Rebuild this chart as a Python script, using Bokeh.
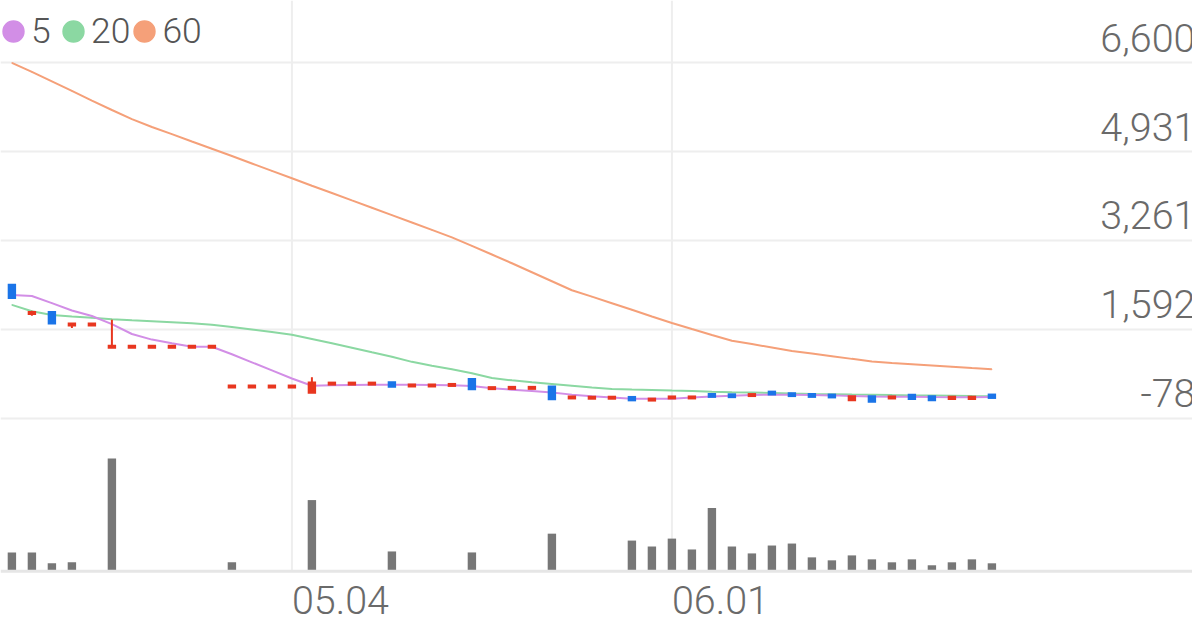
from bokeh.plotting import figure
from bokeh.models import Range1d, FixedTicker, Span, Legend, LegendItem, ColumnDataSource
from bokeh.core.properties import value
from bokeh.embed import file_html
from bokeh.resources import INLINE

# ---------------- data ----------------
dates = ["04.09", "04.10", "04.13", "04.14", "04.16", "04.17", "04.20", "04.21", "04.22", "04.23",
         "04.24", "04.27", "04.28", "04.29", "05.04", "05.06", "05.07", "05.08", "05.11", "05.12",
         "05.13", "05.14", "05.15", "05.18", "05.19", "05.20", "05.21", "05.22", "05.25", "05.26",
         "05.27", "05.28", "05.29", "06.01", "06.02", "06.03", "06.04", "06.05", "06.08", "06.09",
         "06.10", "06.11", "06.12", "06.15", "06.16", "06.17", "06.18", "06.19", "06.22", "06.23"]

opens = [2420, 1895, 1905, 1680, 1680, 1265, 1265, 1265, 1265, 1265,
         1265, 515, 515, 515, 515, 410, 570, 570, 570, 585,
         535, 535, 545, 645, 485, 490, 490, 505, 310, 305,
         305, 310, 270, 310, 310, 365, 360, 355, 410, 380,
         365, 355, 265, 325, 300, 350, 325, 290, 290, 355]
highs = [2420, 1940, 1905, 1680, 1680, 1770, 1265, 1265, 1265, 1265,
         1265, 515, 515, 515, 515, 690, 570, 570, 570, 585,
         535, 535, 545, 645, 485, 490, 490, 505, 310, 305,
         305, 310, 270, 310, 310, 365, 360, 355, 410, 380,
         365, 355, 325, 325, 320, 350, 325, 315, 315, 355]
lows = [2190, 1845, 1710, 1615, 1680, 1265, 1265, 1265, 1265, 1265,
        1265, 515, 515, 515, 515, 410, 570, 570, 570, 520,
        535, 535, 545, 475, 485, 490, 490, 285, 310, 305,
        305, 265, 270, 310, 310, 330, 325, 355, 375, 345,
        330, 320, 265, 240, 300, 290, 265, 290, 290, 310]
closes = [2190, 1895, 1710, 1680, 1680, 1265, 1265, 1265, 1265, 1265,
          1265, 515, 515, 515, 515, 580, 570, 570, 570, 520,
          535, 535, 545, 475, 485, 490, 490, 285, 310, 305,
          305, 265, 270, 310, 310, 330, 325, 355, 375, 345,
          330, 320, 325, 240, 320, 290, 265, 315, 315, 310]

volumes = [19000, 19000, 8000, 9000, 0, 114000, 0, 0, 0, 0,
           0, 9000, 0, 0, 0, 72000, 0, 0, 0, 20000,
           0, 0, 0, 19000, 0, 0, 0, 38000, 0, 0,
           0, 31000, 25000, 33000, 22000, 64000, 25000, 18000, 26000, 28000,
           14000, 11000, 16000, 12000, 9000, 12000, 6000, 9000, 12000, 8000]

ma5 = [2235, 2217, 2083, 1944, 1840, 1688, 1502, 1397, 1328, 1263,
       1263, 1122, 970, 818, 666, 529, 538, 543, 547, 547,
       547, 543, 538, 525, 482, 456, 430, 404, 363, 334,
       308, 287, 287, 287, 311, 330, 343, 356, 362, 362,
       356, 349, 339, 330, 324, 321, 317, 315, 315, 319]
ma20 = [2050, 1931, 1860, 1833, 1808, 1781, 1760, 1744, 1725, 1703,
        1677, 1632, 1586, 1540, 1489, 1410, 1330, 1245, 1159, 1076,
        979, 905, 840, 766, 677, 631, 594, 562, 529, 497,
        471, 460, 451, 441, 432, 419, 410, 402, 393, 382,
        376, 371, 365, 360, 354, 349, 345, 341, 337, 334]
ma60 = [6598, 6427, 6248, 6069, 5889, 5711, 5539, 5391, 5257, 5120,
        4984, 4846, 4706, 4567, 4428, 4289, 4151, 4012, 3875, 3736,
        3597, 3458, 3318, 3159, 2996, 2831, 2662, 2493, 2324, 2204,
        2081, 1957, 1832, 1709, 1596, 1485, 1377, 1313, 1248, 1183,
        1135, 1085, 1035, 987, 959, 935, 911, 888, 864, 842]

y_ticks = [-78, 1591.5, 3261, 4930.5, 6600]
y_tick_labels = ["-78", "1,592", "3,261", "4,931", "6,600"]
x_tick_dates = ["05.04", "06.01"]
legend_labels = ["5", "20", "60"]

# ---------------- layout / style ----------------
W, H = 1192, 622
SLOT_PX = 20.0
FIRST_SLOT_PX = 11.4
PRICE_TOP_PX, PRICE_BOT_PX = 62.2, 417.6
VOL_BASE_PX = 570.7
VOL_MAX_PX = 112.6

C5, C20, C60 = "#d28ee6", "#8bd8a2", "#f5a079"
UP, DOWN = "#e8361f", "#1a74e8"
VOL_COLOR = "#777777"
GRID = "#eeeeee"
TXT = "#6a6a6a"
FONT = "Roboto Light, Roboto"

idx = list(range(len(dates)))

x0 = -FIRST_SLOT_PX / SLOT_PX
x_range = Range1d(x0, x0 + W / SLOT_PX)
ppx = (y_ticks[-1] - y_ticks[0]) / (PRICE_BOT_PX - PRICE_TOP_PX)
y_range = Range1d(y_ticks[0] - (H - PRICE_BOT_PX) * ppx, y_ticks[-1] + PRICE_TOP_PX * ppx)
vpx = max(volumes) / VOL_MAX_PX
vol_range = Range1d(-(H - VOL_BASE_PX) * vpx, VOL_BASE_PX * vpx)

p = figure(width=W, height=H, x_range=x_range, y_range=y_range,
           x_axis_location=None, y_axis_location=None,
           toolbar_location=None, output_backend="svg", min_border=0)
p.extra_y_ranges = {"vol": vol_range}
p.outline_line_color = None
p.background_fill_color = "white"
p.border_fill_color = "white"

p.xgrid.visible = False
p.ygrid.ticker = FixedTicker(ticks=y_ticks)
p.ygrid.grid_line_color = GRID
p.ygrid.grid_line_width = 2

# vertical date grid lines (stop at volume baseline)
xt = [dates.index(d) for d in x_tick_dates]
p.segment(x0=xt, x1=xt, y0=[0] * len(xt), y1=[vol_range.end] * len(xt),
          y_range_name="vol", line_color=GRID, line_width=2)

# volume baseline
p.add_layout(Span(location=0, dimension="width", y_range_name="vol",
                  line_color="#e6e6e6", line_width=3))

# volume bars
p.vbar(x=idx, top=volumes, bottom=0, width=0.42, y_range_name="vol",
       fill_color=VOL_COLOR, line_color=None)

# moving averages
p.line(idx, ma60, line_color=C60, line_width=2)
p.line(idx, ma20, line_color=C20, line_width=2)
p.line(idx, ma5, line_color=C5, line_width=2)

# legend markers: 1px screen-size ellipses sitting on each line
e60 = p.ellipse(idx, ma60, width=1, height=1, width_units="screen", height_units="screen",
                fill_color=C60, line_color=None)
e20 = p.ellipse(idx, ma20, width=1, height=1, width_units="screen", height_units="screen",
                fill_color=C20, line_color=None)
e5 = p.ellipse(idx, ma5, width=1, height=1, width_units="screen", height_units="screen",
               fill_color=C5, line_color=None)

# candles (flat bodies get a minimum visible thickness of 1px)
half_px = 0.5 * ppx
colors = [UP if c >= o else DOWN for o, c in zip(opens, closes)]
tops = [max(o, c) if o != c else o + half_px for o, c in zip(opens, closes)]
bottoms = [min(o, c) if o != c else o - half_px for o, c in zip(opens, closes)]
src = ColumnDataSource(dict(x=idx, high=highs, low=lows, top=tops, bottom=bottoms, color=colors))
p.segment(x0="x", x1="x", y0="high", y1="low", line_color="color", line_width=2, source=src)
p.vbar(x="x", top="top", bottom="bottom", width=0.27, fill_color="color",
       line_color="color", line_width=3, line_join="miter", source=src)

# price labels (right side, above grid lines)
p.text(x=[x_range.end] * len(y_ticks), y=y_ticks, text=y_tick_labels,
       text_align="right", text_baseline="middle", x_offset=3, y_offset=-25,
       text_font=value(FONT), text_font_size="39.5px", text_color=TXT)

# date labels
p.text(x=xt, y=[0] * len(xt), text=x_tick_dates, y_range_name="vol",
       text_align="left", text_baseline="middle", x_offset=0, y_offset=29,
       text_font=value(FONT), text_font_size="39.5px", text_color=TXT)

legend = Legend(items=[LegendItem(label=legend_labels[0], renderers=[e5]),
                       LegendItem(label=legend_labels[1], renderers=[e20]),
                       LegendItem(label=legend_labels[2], renderers=[e60])],
                orientation="horizontal", location=(-1, H - 52),
                glyph_width=28, glyph_height=28, label_standoff=4, label_width=28,
                spacing=0, padding=0, margin=0,
                border_line_color=None, background_fill_alpha=0,
                label_text_font=FONT, label_text_font_size="35.5px",
                label_text_color="#555555")
p.add_layout(legend)

open("out.html", "w").write(file_html(p, INLINE))
